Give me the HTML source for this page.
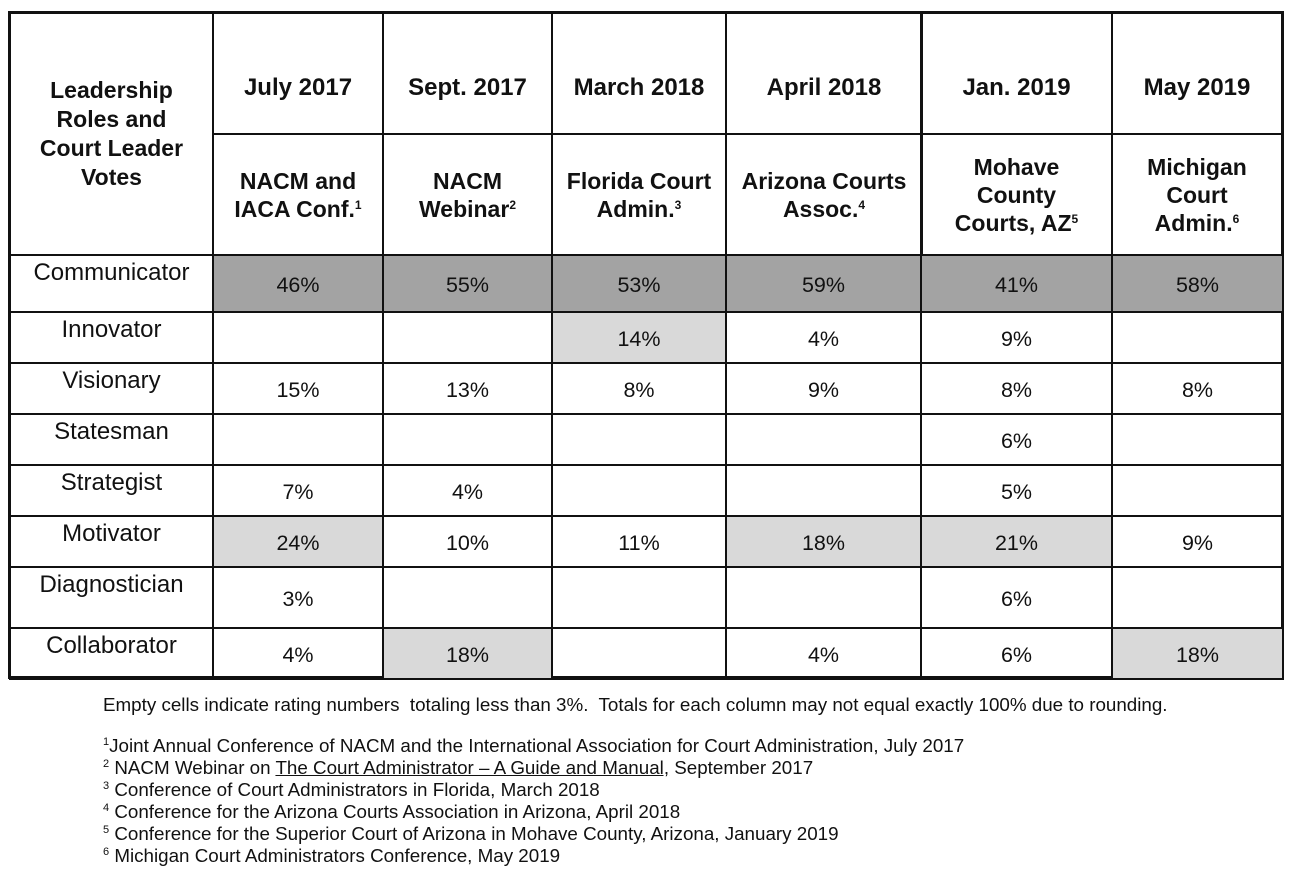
<!DOCTYPE html>
<html><head><meta charset="utf-8"><style>
body{margin:0;width:1300px;height:874px;background:#fff;position:relative;font-family:"Liberation Sans",Arial,sans-serif;color:#111;overflow:hidden}
.c{position:absolute;box-sizing:border-box;border:2px solid #111;display:flex;align-items:center;justify-content:center;text-align:center}
.h{font-weight:bold;font-size:23px;line-height:28px}
.h0{font-size:24px;line-height:29px}
.h1{font-size:23px;line-height:29px}
.v{font-size:21.5px;padding-top:4px}
.l{font-size:24px;align-items:flex-start;padding-top:3px}
.d{background:#a3a3a3}.g{background:#d9d9d9}
sup{font-size:12px;vertical-align:8px;line-height:0}
.f{position:absolute;left:103px;font-size:18.8px;white-space:nowrap}
.f sup{font-size:11px;vertical-align:7px}
</style></head><body>
<div class="c" style="left:8px;top:11px;width:1276px;height:668px;border-width:3px"></div>
<div class="c h h1" style="left:9px;top:12px;width:205px;height:244px"><span>Leadership<br>Roles and<br>Court Leader<br>Votes</span></div>
<div class="c h h0" style="left:212px;top:12px;width:172px;height:123px;padding-top:28px"><span>July 2017</span></div>
<div class="c h h0" style="left:382px;top:12px;width:171px;height:123px;padding-top:28px"><span>Sept. 2017</span></div>
<div class="c h h0" style="left:551px;top:12px;width:176px;height:123px;padding-top:28px"><span>March 2018</span></div>
<div class="c h h0" style="left:725px;top:12px;width:198px;height:123px;padding-top:28px"><span>April 2018</span></div>
<div class="c h h0" style="left:920px;top:12px;width:193px;height:123px;padding-top:28px"><span>Jan. 2019</span></div>
<div class="c h h0" style="left:1111px;top:12px;width:172px;height:123px;padding-top:28px"><span>May 2019</span></div>
<div class="c h" style="left:212px;top:133px;width:172px;height:123px"><span>NACM and<br>IACA Conf.<sup>1</sup></span></div>
<div class="c h" style="left:382px;top:133px;width:171px;height:123px"><span>NACM<br>Webinar<sup>2</sup></span></div>
<div class="c h" style="left:551px;top:133px;width:176px;height:123px"><span>Florida Court<br>Admin.<sup>3</sup></span></div>
<div class="c h" style="left:725px;top:133px;width:198px;height:123px"><span>Arizona Courts<br>Assoc.<sup>4</sup></span></div>
<div class="c h" style="left:920px;top:133px;width:193px;height:123px"><span>Mohave<br>County<br>Courts, AZ<sup>5</sup></span></div>
<div class="c h" style="left:1111px;top:133px;width:172px;height:123px"><span>Michigan<br>Court<br>Admin.<sup>6</sup></span></div>

<div id="rows"></div>
<script>
var cols=[9,212,382,551,725,920,1111,1282];
var rows=[254,311,362,413,464,515,566,627,678];
var data=[
["Communicator","d46%","d55%","d53%","d59%","d41%","d58%"],
["Innovator","","","g14%","4%","9%",""],
["Visionary","15%","13%","8%","9%","8%","8%"],
["Statesman","","","","","6%",""],
["Strategist","7%","4%","","","5%",""],
["Motivator","g24%","10%","11%","g18%","g21%","9%"],
["Diagnostician","3%","","","","6%",""],
["Collaborator","4%","g18%","","4%","6%","g18%"]];
var h="";
for(var r=0;r<8;r++){for(var c=0;c<7;c++){
var x=cols[c],y=rows[r],w=cols[c+1]-x+2,hh=rows[r+1]-y+2;var t=data[r][c],cls="";
if(c==0){cls="l";}else{cls="v";if(t[0]=="d"){cls+=" d";t=t.slice(1);}else if(t[0]=="g"){cls+=" g";t=t.slice(1);}}
h+='<div class="c '+cls+'" style="left:'+x+'px;top:'+y+'px;width:'+w+'px;height:'+hh+'px"><span>'+t+'</span></div>';}}
document.getElementById("rows").innerHTML=h;
</script>
<div class="f" style="top:694px">Empty cells indicate rating numbers&nbsp; totaling less than 3%.&nbsp; Totals for each column may not equal exactly 100% due to rounding.</div>
<div class="f" style="top:735px"><sup>1</sup>Joint Annual Conference of NACM and the International Association for Court Administration, July 2017</div>
<div class="f" style="top:757px"><sup>2</sup> NACM Webinar on <u>The Court Administrator – A Guide and Manual,</u> September 2017</div>
<div class="f" style="top:779px"><sup>3</sup> Conference of Court Administrators in Florida, March 2018</div>
<div class="f" style="top:801px"><sup>4</sup> Conference for the Arizona Courts Association in Arizona, April 2018</div>
<div class="f" style="top:823px"><sup>5</sup> Conference for the Superior Court of Arizona in Mohave County, Arizona, January 2019</div>
<div class="f" style="top:845px"><sup>6</sup> Michigan Court Administrators Conference, May 2019</div>
</body></html>
